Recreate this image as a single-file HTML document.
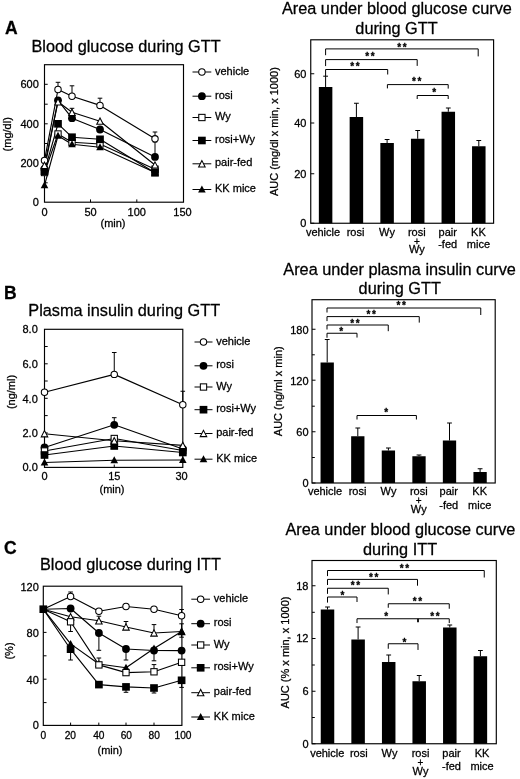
<!DOCTYPE html>
<html lang="en">
<head>
<meta charset="utf-8">
<title>Figure: GTT and ITT in KK mice</title>
<style>
html, body { margin: 0; padding: 0; background: #fff; }
body { width: 520px; height: 779px; overflow: hidden; }
svg { display: block; }
svg text { font-family: "Liberation Sans", Arial, Helvetica, sans-serif; fill: #000; stroke: #000; stroke-width: 0.28px; stroke-linejoin: round; }
</style>
</head>
<body>
<svg width="520" height="779" viewBox="0 0 520 779">
<rect x="0" y="0" width="520" height="779" fill="#fff"/>
<rect x="44.5" y="64.7" width="139.0" height="137.5" fill="none" stroke="#000" stroke-width="1.15"/>
<line x1="44.50" y1="84.30" x2="47.70" y2="84.30" stroke="#000" stroke-width="1" />
<line x1="44.50" y1="104.20" x2="47.70" y2="104.20" stroke="#000" stroke-width="1" />
<line x1="44.50" y1="123.80" x2="47.70" y2="123.80" stroke="#000" stroke-width="1" />
<line x1="44.50" y1="143.50" x2="47.70" y2="143.50" stroke="#000" stroke-width="1" />
<line x1="44.50" y1="163.20" x2="47.70" y2="163.20" stroke="#000" stroke-width="1" />
<line x1="44.50" y1="182.80" x2="47.70" y2="182.80" stroke="#000" stroke-width="1" />
<line x1="90.50" y1="202.20" x2="90.50" y2="199.40" stroke="#000" stroke-width="1" />
<line x1="136.80" y1="202.20" x2="136.80" y2="199.40" stroke="#000" stroke-width="1" />
<text x="38.80" y="206.40" font-size="11" text-anchor="end" font-weight="normal" >0</text>
<text x="38.80" y="167.40" font-size="11" text-anchor="end" font-weight="normal" >200</text>
<text x="38.80" y="127.70" font-size="11" text-anchor="end" font-weight="normal" >400</text>
<text x="38.80" y="88.20" font-size="11" text-anchor="end" font-weight="normal" >600</text>
<text x="44.50" y="216.30" font-size="11" text-anchor="middle" font-weight="normal" >0</text>
<text x="90.50" y="216.30" font-size="11" text-anchor="middle" font-weight="normal" >50</text>
<text x="136.80" y="216.30" font-size="11" text-anchor="middle" font-weight="normal" >100</text>
<text x="182.50" y="216.30" font-size="11" text-anchor="middle" font-weight="normal" >150</text>
<text x="11.50" y="134.30" font-size="11" text-anchor="middle" font-weight="normal" transform="rotate(-90 11.5 134.3)">(mg/dl)</text>
<text x="113.00" y="226.60" font-size="11" text-anchor="middle" font-weight="normal" >(min)</text>
<text x="31.50" y="52.00" font-size="16.3" text-anchor="start" font-weight="normal" >Blood glucose during GTT</text>
<text x="5.00" y="34.00" font-size="17.5" text-anchor="start" font-weight="bold" >A</text>
<polyline points="44.50,160.40 58.00,89.50 72.00,96.20 100.00,105.40 155.00,138.80" fill="none" stroke="#000" stroke-width="1.15" stroke-linejoin="round"/>
<polyline points="44.50,169.00 58.00,100.30 72.00,118.20 100.00,129.50 155.00,156.90" fill="none" stroke="#000" stroke-width="1.15" stroke-linejoin="round"/>
<polyline points="44.50,172.50 58.00,134.00 72.00,142.30 100.00,144.00 155.00,169.20" fill="none" stroke="#000" stroke-width="1.15" stroke-linejoin="round"/>
<polyline points="44.50,171.20 58.00,123.80 72.00,137.20 100.00,139.30 155.00,172.80" fill="none" stroke="#000" stroke-width="1.15" stroke-linejoin="round"/>
<polyline points="44.50,165.30 58.00,101.80 72.00,112.30 100.00,121.20 155.00,165.00" fill="none" stroke="#000" stroke-width="1.15" stroke-linejoin="round"/>
<polyline points="44.50,185.30 58.00,135.80 72.00,144.30 100.00,147.20 155.00,172.50" fill="none" stroke="#000" stroke-width="1.15" stroke-linejoin="round"/>
<line x1="58.00" y1="89.50" x2="58.00" y2="82.30" stroke="#000" stroke-width="1" />
<line x1="55.70" y1="82.30" x2="60.30" y2="82.30" stroke="#000" stroke-width="1" />
<line x1="72.00" y1="96.20" x2="72.00" y2="85.80" stroke="#000" stroke-width="1" />
<line x1="69.70" y1="85.80" x2="74.30" y2="85.80" stroke="#000" stroke-width="1" />
<line x1="100.00" y1="105.40" x2="100.00" y2="98.20" stroke="#000" stroke-width="1" />
<line x1="97.70" y1="98.20" x2="102.30" y2="98.20" stroke="#000" stroke-width="1" />
<line x1="155.00" y1="138.80" x2="155.00" y2="132.00" stroke="#000" stroke-width="1" />
<line x1="152.70" y1="132.00" x2="157.30" y2="132.00" stroke="#000" stroke-width="1" />
<line x1="72.00" y1="112.30" x2="72.00" y2="108.30" stroke="#000" stroke-width="1" />
<line x1="69.70" y1="108.30" x2="74.30" y2="108.30" stroke="#000" stroke-width="1" />
<line x1="155.00" y1="156.90" x2="155.00" y2="142.00" stroke="#000" stroke-width="1" />
<line x1="152.70" y1="142.00" x2="157.30" y2="142.00" stroke="#000" stroke-width="1" />
<circle cx="44.50" cy="160.40" r="3.2" fill="#fff" stroke="#000" stroke-width="1.05"/>
<circle cx="58.00" cy="89.50" r="3.2" fill="#fff" stroke="#000" stroke-width="1.05"/>
<circle cx="72.00" cy="96.20" r="3.2" fill="#fff" stroke="#000" stroke-width="1.05"/>
<circle cx="100.00" cy="105.40" r="3.2" fill="#fff" stroke="#000" stroke-width="1.05"/>
<circle cx="155.00" cy="138.80" r="3.2" fill="#fff" stroke="#000" stroke-width="1.05"/>
<circle cx="44.50" cy="169.00" r="3.9" fill="#000"/>
<circle cx="58.00" cy="100.30" r="3.9" fill="#000"/>
<circle cx="72.00" cy="118.20" r="3.9" fill="#000"/>
<circle cx="100.00" cy="129.50" r="3.9" fill="#000"/>
<circle cx="155.00" cy="156.90" r="3.9" fill="#000"/>
<rect x="41.35" y="169.35" width="6.3" height="6.3" fill="#fff" stroke="#000" stroke-width="1.05"/>
<rect x="54.85" y="130.85" width="6.3" height="6.3" fill="#fff" stroke="#000" stroke-width="1.05"/>
<rect x="68.85" y="139.15" width="6.3" height="6.3" fill="#fff" stroke="#000" stroke-width="1.05"/>
<rect x="96.85" y="140.85" width="6.3" height="6.3" fill="#fff" stroke="#000" stroke-width="1.05"/>
<rect x="151.85" y="166.05" width="6.3" height="6.3" fill="#fff" stroke="#000" stroke-width="1.05"/>
<rect x="40.65" y="167.40" width="7.7" height="7.6" fill="#000"/>
<rect x="54.15" y="120.00" width="7.7" height="7.6" fill="#000"/>
<rect x="68.15" y="133.40" width="7.7" height="7.6" fill="#000"/>
<rect x="96.15" y="135.50" width="7.7" height="7.6" fill="#000"/>
<rect x="151.15" y="169.00" width="7.7" height="7.6" fill="#000"/>
<polygon points="44.50,162.10 41.25,168.40 47.75,168.40" fill="#fff" stroke="#000" stroke-width="1.05"/>
<polygon points="58.00,98.60 54.75,104.90 61.25,104.90" fill="#fff" stroke="#000" stroke-width="1.05"/>
<polygon points="72.00,109.10 68.75,115.40 75.25,115.40" fill="#fff" stroke="#000" stroke-width="1.05"/>
<polygon points="100.00,118.00 96.75,124.30 103.25,124.30" fill="#fff" stroke="#000" stroke-width="1.05"/>
<polygon points="155.00,161.80 151.75,168.10 158.25,168.10" fill="#fff" stroke="#000" stroke-width="1.05"/>
<polygon points="44.50,181.30 40.70,188.30 48.30,188.30" fill="#000"/>
<polygon points="58.00,131.80 54.20,138.80 61.80,138.80" fill="#000"/>
<polygon points="72.00,140.30 68.20,147.30 75.80,147.30" fill="#000"/>
<polygon points="100.00,143.20 96.20,150.20 103.80,150.20" fill="#000"/>
<polygon points="155.00,168.50 151.20,175.50 158.80,175.50" fill="#000"/>
<line x1="192.50" y1="72.00" x2="211.30" y2="72.00" stroke="#000" stroke-width="1.0" />
<circle cx="201.90" cy="72.00" r="3.2" fill="#fff" stroke="#000" stroke-width="1.05"/>
<text x="215.00" y="74.60" font-size="11" text-anchor="start" font-weight="normal" >vehicle</text>
<line x1="192.50" y1="96.20" x2="211.30" y2="96.20" stroke="#000" stroke-width="1.0" />
<circle cx="201.90" cy="96.20" r="3.9" fill="#000"/>
<text x="215.00" y="98.80" font-size="11" text-anchor="start" font-weight="normal" >rosi</text>
<line x1="192.50" y1="117.50" x2="211.30" y2="117.50" stroke="#000" stroke-width="1.0" />
<rect x="198.75" y="114.35" width="6.3" height="6.3" fill="#fff" stroke="#000" stroke-width="1.05"/>
<text x="215.00" y="120.10" font-size="11" text-anchor="start" font-weight="normal" >Wy</text>
<line x1="192.50" y1="140.50" x2="211.30" y2="140.50" stroke="#000" stroke-width="1.0" />
<rect x="198.05" y="136.70" width="7.7" height="7.6" fill="#000"/>
<text x="215.00" y="143.10" font-size="11" text-anchor="start" font-weight="normal" >rosi+Wy</text>
<line x1="192.50" y1="163.80" x2="211.30" y2="163.80" stroke="#000" stroke-width="1.0" />
<polygon points="201.90,160.60 198.65,166.90 205.15,166.90" fill="#fff" stroke="#000" stroke-width="1.05"/>
<text x="215.00" y="166.40" font-size="11" text-anchor="start" font-weight="normal" >pair-fed</text>
<line x1="192.50" y1="189.50" x2="211.30" y2="189.50" stroke="#000" stroke-width="1.0" />
<polygon points="201.90,185.50 198.10,192.50 205.70,192.50" fill="#000"/>
<text x="215.00" y="192.10" font-size="11" text-anchor="start" font-weight="normal" >KK mice</text>
<rect x="44.5" y="329.3" width="138.3" height="138.09999999999997" fill="none" stroke="#000" stroke-width="1.15"/>
<line x1="44.50" y1="346.50" x2="47.70" y2="346.50" stroke="#000" stroke-width="1" />
<line x1="44.50" y1="363.80" x2="47.70" y2="363.80" stroke="#000" stroke-width="1" />
<line x1="44.50" y1="381.00" x2="47.70" y2="381.00" stroke="#000" stroke-width="1" />
<line x1="44.50" y1="398.30" x2="47.70" y2="398.30" stroke="#000" stroke-width="1" />
<line x1="44.50" y1="415.60" x2="47.70" y2="415.60" stroke="#000" stroke-width="1" />
<line x1="44.50" y1="432.90" x2="47.70" y2="432.90" stroke="#000" stroke-width="1" />
<line x1="44.50" y1="450.10" x2="47.70" y2="450.10" stroke="#000" stroke-width="1" />
<line x1="114.25" y1="467.40" x2="114.25" y2="464.60" stroke="#000" stroke-width="1" />
<text x="37.80" y="471.40" font-size="11" text-anchor="end" font-weight="normal" >0.0</text>
<text x="37.80" y="437.10" font-size="11" text-anchor="end" font-weight="normal" >2.0</text>
<text x="37.80" y="402.90" font-size="11" text-anchor="end" font-weight="normal" >4.0</text>
<text x="37.80" y="367.90" font-size="11" text-anchor="end" font-weight="normal" >6.0</text>
<text x="37.80" y="333.40" font-size="11" text-anchor="end" font-weight="normal" >8.0</text>
<text x="44.50" y="480.20" font-size="11" text-anchor="middle" font-weight="normal" >0</text>
<text x="114.25" y="480.20" font-size="11" text-anchor="middle" font-weight="normal" >15</text>
<text x="181.50" y="480.20" font-size="11" text-anchor="middle" font-weight="normal" >30</text>
<text x="15.00" y="392.00" font-size="11" text-anchor="middle" font-weight="normal" transform="rotate(-90 15 392)">(ng/ml)</text>
<text x="112.00" y="492.50" font-size="11" text-anchor="middle" font-weight="normal" >(min)</text>
<text x="28.30" y="315.80" font-size="16.3" text-anchor="start" font-weight="normal" >Plasma insulin during GTT</text>
<text x="4.00" y="299.10" font-size="17.5" text-anchor="start" font-weight="bold" >B</text>
<polyline points="44.50,392.30 114.25,374.40 182.80,404.70" fill="none" stroke="#000" stroke-width="1.15" stroke-linejoin="round"/>
<polyline points="44.50,447.50 114.25,424.80 182.80,449.00" fill="none" stroke="#000" stroke-width="1.15" stroke-linejoin="round"/>
<polyline points="44.50,451.00 114.25,438.50 182.80,450.50" fill="none" stroke="#000" stroke-width="1.15" stroke-linejoin="round"/>
<polyline points="44.50,455.00 114.25,446.00 182.80,452.50" fill="none" stroke="#000" stroke-width="1.15" stroke-linejoin="round"/>
<polyline points="44.50,433.75 114.25,440.80 182.80,445.40" fill="none" stroke="#000" stroke-width="1.15" stroke-linejoin="round"/>
<polyline points="44.50,462.50 114.25,460.30 182.80,460.00" fill="none" stroke="#000" stroke-width="1.15" stroke-linejoin="round"/>
<line x1="114.25" y1="374.40" x2="114.25" y2="352.50" stroke="#000" stroke-width="1" />
<line x1="111.95" y1="352.50" x2="116.55" y2="352.50" stroke="#000" stroke-width="1" />
<line x1="182.80" y1="404.70" x2="182.80" y2="391.25" stroke="#000" stroke-width="1" />
<line x1="180.50" y1="391.25" x2="185.10" y2="391.25" stroke="#000" stroke-width="1" />
<line x1="114.25" y1="424.80" x2="114.25" y2="417.70" stroke="#000" stroke-width="1" />
<line x1="111.95" y1="417.70" x2="116.55" y2="417.70" stroke="#000" stroke-width="1" />
<circle cx="44.50" cy="392.30" r="3.2" fill="#fff" stroke="#000" stroke-width="1.05"/>
<circle cx="114.25" cy="374.40" r="3.2" fill="#fff" stroke="#000" stroke-width="1.05"/>
<circle cx="182.80" cy="404.70" r="3.2" fill="#fff" stroke="#000" stroke-width="1.05"/>
<circle cx="44.50" cy="447.50" r="3.9" fill="#000"/>
<circle cx="114.25" cy="424.80" r="3.9" fill="#000"/>
<circle cx="182.80" cy="449.00" r="3.9" fill="#000"/>
<rect x="41.35" y="447.85" width="6.3" height="6.3" fill="#fff" stroke="#000" stroke-width="1.05"/>
<rect x="111.10" y="435.35" width="6.3" height="6.3" fill="#fff" stroke="#000" stroke-width="1.05"/>
<rect x="179.65" y="447.35" width="6.3" height="6.3" fill="#fff" stroke="#000" stroke-width="1.05"/>
<rect x="40.65" y="451.20" width="7.7" height="7.6" fill="#000"/>
<rect x="110.40" y="442.20" width="7.7" height="7.6" fill="#000"/>
<rect x="178.95" y="448.70" width="7.7" height="7.6" fill="#000"/>
<polygon points="44.50,430.55 41.25,436.85 47.75,436.85" fill="#fff" stroke="#000" stroke-width="1.05"/>
<polygon points="114.25,437.60 111.00,443.90 117.50,443.90" fill="#fff" stroke="#000" stroke-width="1.05"/>
<polygon points="182.80,442.20 179.55,448.50 186.05,448.50" fill="#fff" stroke="#000" stroke-width="1.05"/>
<polygon points="44.50,458.50 40.70,465.50 48.30,465.50" fill="#000"/>
<polygon points="114.25,456.30 110.45,463.30 118.05,463.30" fill="#000"/>
<polygon points="182.80,456.00 179.00,463.00 186.60,463.00" fill="#000"/>
<line x1="194.50" y1="342.00" x2="212.50" y2="342.00" stroke="#000" stroke-width="1.0" />
<circle cx="203.50" cy="342.00" r="3.2" fill="#fff" stroke="#000" stroke-width="1.05"/>
<text x="216.20" y="344.60" font-size="11" text-anchor="start" font-weight="normal" >vehicle</text>
<line x1="194.50" y1="365.80" x2="212.50" y2="365.80" stroke="#000" stroke-width="1.0" />
<circle cx="203.50" cy="365.80" r="3.9" fill="#000"/>
<text x="216.20" y="368.40" font-size="11" text-anchor="start" font-weight="normal" >rosi</text>
<line x1="194.50" y1="387.00" x2="212.50" y2="387.00" stroke="#000" stroke-width="1.0" />
<rect x="200.35" y="383.85" width="6.3" height="6.3" fill="#fff" stroke="#000" stroke-width="1.05"/>
<text x="216.20" y="389.60" font-size="11" text-anchor="start" font-weight="normal" >Wy</text>
<line x1="194.50" y1="409.70" x2="212.50" y2="409.70" stroke="#000" stroke-width="1.0" />
<rect x="199.65" y="405.90" width="7.7" height="7.6" fill="#000"/>
<text x="216.20" y="412.30" font-size="11" text-anchor="start" font-weight="normal" >rosi+Wy</text>
<line x1="194.50" y1="433.50" x2="212.50" y2="433.50" stroke="#000" stroke-width="1.0" />
<polygon points="203.50,430.30 200.25,436.60 206.75,436.60" fill="#fff" stroke="#000" stroke-width="1.05"/>
<text x="216.20" y="436.10" font-size="11" text-anchor="start" font-weight="normal" >pair-fed</text>
<line x1="194.50" y1="459.20" x2="212.50" y2="459.20" stroke="#000" stroke-width="1.0" />
<polygon points="203.50,455.20 199.70,462.20 207.30,462.20" fill="#000"/>
<text x="216.20" y="461.80" font-size="11" text-anchor="start" font-weight="normal" >KK mice</text>
<rect x="43.3" y="586.2" width="138.60000000000002" height="139.19999999999993" fill="none" stroke="#000" stroke-width="1.15"/>
<line x1="43.30" y1="609.20" x2="46.50" y2="609.20" stroke="#000" stroke-width="1" />
<line x1="43.30" y1="632.40" x2="46.50" y2="632.40" stroke="#000" stroke-width="1" />
<line x1="43.30" y1="655.80" x2="46.50" y2="655.80" stroke="#000" stroke-width="1" />
<line x1="43.30" y1="679.20" x2="46.50" y2="679.20" stroke="#000" stroke-width="1" />
<line x1="43.30" y1="702.60" x2="46.50" y2="702.60" stroke="#000" stroke-width="1" />
<line x1="70.60" y1="725.40" x2="70.60" y2="722.60" stroke="#000" stroke-width="1" />
<line x1="98.80" y1="725.40" x2="98.80" y2="722.60" stroke="#000" stroke-width="1" />
<line x1="126.00" y1="725.40" x2="126.00" y2="722.60" stroke="#000" stroke-width="1" />
<line x1="154.00" y1="725.40" x2="154.00" y2="722.60" stroke="#000" stroke-width="1" />
<text x="38.80" y="728.90" font-size="11" text-anchor="end" font-weight="normal" >0</text>
<text x="38.80" y="684.10" font-size="11" text-anchor="end" font-weight="normal" >40</text>
<text x="38.80" y="636.50" font-size="11" text-anchor="end" font-weight="normal" >80</text>
<text x="38.80" y="590.90" font-size="11" text-anchor="end" font-weight="normal" >120</text>
<text x="43.30" y="739.00" font-size="10.2" text-anchor="middle" font-weight="normal" >0</text>
<text x="70.30" y="739.00" font-size="10.2" text-anchor="middle" font-weight="normal" >20</text>
<text x="98.80" y="739.00" font-size="10.2" text-anchor="middle" font-weight="normal" >40</text>
<text x="126.30" y="739.00" font-size="10.2" text-anchor="middle" font-weight="normal" >60</text>
<text x="154.20" y="739.00" font-size="10.2" text-anchor="middle" font-weight="normal" >80</text>
<text x="183.00" y="739.00" font-size="10.2" text-anchor="middle" font-weight="normal" >100</text>
<text x="12.60" y="651.00" font-size="11" text-anchor="middle" font-weight="normal" transform="rotate(-90 12.6 651)">(%)</text>
<text x="110.00" y="753.70" font-size="11" text-anchor="middle" font-weight="normal" >(min)</text>
<text x="40.00" y="570.00" font-size="16.3" text-anchor="start" font-weight="normal" >Blood glucose during ITT</text>
<text x="4.00" y="554.20" font-size="17.5" text-anchor="start" font-weight="bold" >C</text>
<polyline points="43.30,609.20 70.60,596.50 98.90,611.20 126.00,606.50 154.00,609.20 181.60,615.70" fill="none" stroke="#000" stroke-width="1.15" stroke-linejoin="round"/>
<polyline points="43.30,609.20 70.60,608.50 98.90,633.00 126.00,649.00 154.00,650.50 181.60,650.60" fill="none" stroke="#000" stroke-width="1.15" stroke-linejoin="round"/>
<polyline points="43.30,609.20 70.60,649.20 98.90,684.60 126.00,686.90 154.00,688.00 181.60,680.30" fill="none" stroke="#000" stroke-width="1.15" stroke-linejoin="round"/>
<polyline points="43.30,609.20 70.60,616.80 98.90,620.80 126.00,627.00 154.00,633.00 181.60,631.50" fill="none" stroke="#000" stroke-width="1.15" stroke-linejoin="round"/>
<polyline points="43.30,609.20 70.60,643.90 98.90,664.00 126.00,667.70 154.00,648.60 181.60,631.50" fill="none" stroke="#000" stroke-width="1.15" stroke-linejoin="round"/>
<polyline points="43.30,609.20 70.60,621.80 98.90,664.90 126.00,672.60 154.00,671.80 181.60,662.30" fill="none" stroke="#000" stroke-width="1.15" stroke-linejoin="round"/>
<line x1="70.60" y1="596.50" x2="70.60" y2="592.00" stroke="#000" stroke-width="1" />
<line x1="68.30" y1="592.00" x2="72.90" y2="592.00" stroke="#000" stroke-width="1" />
<line x1="181.60" y1="615.70" x2="181.60" y2="609.50" stroke="#000" stroke-width="1" />
<line x1="179.30" y1="609.50" x2="183.90" y2="609.50" stroke="#000" stroke-width="1" />
<line x1="98.90" y1="633.00" x2="98.90" y2="650.30" stroke="#000" stroke-width="1" />
<line x1="96.60" y1="650.30" x2="101.20" y2="650.30" stroke="#000" stroke-width="1" />
<line x1="126.00" y1="649.00" x2="126.00" y2="660.00" stroke="#000" stroke-width="1" />
<line x1="123.70" y1="660.00" x2="128.30" y2="660.00" stroke="#000" stroke-width="1" />
<line x1="154.00" y1="650.50" x2="154.00" y2="660.80" stroke="#000" stroke-width="1" />
<line x1="151.70" y1="660.80" x2="156.30" y2="660.80" stroke="#000" stroke-width="1" />
<line x1="70.60" y1="621.80" x2="70.60" y2="631.50" stroke="#000" stroke-width="1" />
<line x1="68.30" y1="631.50" x2="72.90" y2="631.50" stroke="#000" stroke-width="1" />
<line x1="98.90" y1="664.90" x2="98.90" y2="658.00" stroke="#000" stroke-width="1" />
<line x1="96.60" y1="658.00" x2="101.20" y2="658.00" stroke="#000" stroke-width="1" />
<line x1="154.00" y1="671.80" x2="154.00" y2="664.60" stroke="#000" stroke-width="1" />
<line x1="151.70" y1="664.60" x2="156.30" y2="664.60" stroke="#000" stroke-width="1" />
<line x1="70.60" y1="649.20" x2="70.60" y2="660.00" stroke="#000" stroke-width="1" />
<line x1="68.30" y1="660.00" x2="72.90" y2="660.00" stroke="#000" stroke-width="1" />
<line x1="126.00" y1="686.90" x2="126.00" y2="692.30" stroke="#000" stroke-width="1" />
<line x1="123.70" y1="692.30" x2="128.30" y2="692.30" stroke="#000" stroke-width="1" />
<line x1="154.00" y1="688.00" x2="154.00" y2="693.00" stroke="#000" stroke-width="1" />
<line x1="151.70" y1="693.00" x2="156.30" y2="693.00" stroke="#000" stroke-width="1" />
<line x1="181.60" y1="680.30" x2="181.60" y2="687.40" stroke="#000" stroke-width="1" />
<line x1="179.30" y1="687.40" x2="183.90" y2="687.40" stroke="#000" stroke-width="1" />
<line x1="98.90" y1="620.80" x2="98.90" y2="616.20" stroke="#000" stroke-width="1" />
<line x1="96.60" y1="616.20" x2="101.20" y2="616.20" stroke="#000" stroke-width="1" />
<line x1="126.00" y1="627.00" x2="126.00" y2="621.50" stroke="#000" stroke-width="1" />
<line x1="123.70" y1="621.50" x2="128.30" y2="621.50" stroke="#000" stroke-width="1" />
<line x1="154.00" y1="633.00" x2="154.00" y2="624.60" stroke="#000" stroke-width="1" />
<line x1="151.70" y1="624.60" x2="156.30" y2="624.60" stroke="#000" stroke-width="1" />
<line x1="181.60" y1="631.50" x2="181.60" y2="623.80" stroke="#000" stroke-width="1" />
<line x1="179.30" y1="623.80" x2="183.90" y2="623.80" stroke="#000" stroke-width="1" />
<line x1="181.60" y1="631.50" x2="181.60" y2="637.20" stroke="#000" stroke-width="1" />
<line x1="179.30" y1="637.20" x2="183.90" y2="637.20" stroke="#000" stroke-width="1" />
<circle cx="70.60" cy="596.50" r="3.2" fill="#fff" stroke="#000" stroke-width="1.05"/>
<circle cx="98.90" cy="611.20" r="3.2" fill="#fff" stroke="#000" stroke-width="1.05"/>
<circle cx="126.00" cy="606.50" r="3.2" fill="#fff" stroke="#000" stroke-width="1.05"/>
<circle cx="154.00" cy="609.20" r="3.2" fill="#fff" stroke="#000" stroke-width="1.05"/>
<circle cx="181.60" cy="615.70" r="3.2" fill="#fff" stroke="#000" stroke-width="1.05"/>
<circle cx="70.60" cy="608.50" r="3.9" fill="#000"/>
<circle cx="98.90" cy="633.00" r="3.9" fill="#000"/>
<circle cx="126.00" cy="649.00" r="3.9" fill="#000"/>
<circle cx="154.00" cy="650.50" r="3.9" fill="#000"/>
<circle cx="181.60" cy="650.60" r="3.9" fill="#000"/>
<rect x="39.45" y="605.40" width="7.7" height="7.6" fill="#000"/>
<rect x="66.75" y="645.40" width="7.7" height="7.6" fill="#000"/>
<rect x="95.05" y="680.80" width="7.7" height="7.6" fill="#000"/>
<rect x="122.15" y="683.10" width="7.7" height="7.6" fill="#000"/>
<rect x="150.15" y="684.20" width="7.7" height="7.6" fill="#000"/>
<rect x="177.75" y="676.50" width="7.7" height="7.6" fill="#000"/>
<polygon points="70.60,613.60 67.35,619.90 73.85,619.90" fill="#fff" stroke="#000" stroke-width="1.05"/>
<polygon points="98.90,617.60 95.65,623.90 102.15,623.90" fill="#fff" stroke="#000" stroke-width="1.05"/>
<polygon points="126.00,623.80 122.75,630.10 129.25,630.10" fill="#fff" stroke="#000" stroke-width="1.05"/>
<polygon points="154.00,629.80 150.75,636.10 157.25,636.10" fill="#fff" stroke="#000" stroke-width="1.05"/>
<polygon points="181.60,628.30 178.35,634.60 184.85,634.60" fill="#fff" stroke="#000" stroke-width="1.05"/>
<polygon points="70.60,639.90 66.80,646.90 74.40,646.90" fill="#000"/>
<polygon points="98.90,660.00 95.10,667.00 102.70,667.00" fill="#000"/>
<polygon points="126.00,663.70 122.20,670.70 129.80,670.70" fill="#000"/>
<polygon points="154.00,644.60 150.20,651.60 157.80,651.60" fill="#000"/>
<polygon points="181.60,627.50 177.80,634.50 185.40,634.50" fill="#000"/>
<rect x="67.45" y="618.65" width="6.3" height="6.3" fill="#fff" stroke="#000" stroke-width="1.05"/>
<rect x="95.75" y="661.75" width="6.3" height="6.3" fill="#fff" stroke="#000" stroke-width="1.05"/>
<rect x="122.85" y="669.45" width="6.3" height="6.3" fill="#fff" stroke="#000" stroke-width="1.05"/>
<rect x="150.85" y="668.65" width="6.3" height="6.3" fill="#fff" stroke="#000" stroke-width="1.05"/>
<rect x="178.45" y="659.15" width="6.3" height="6.3" fill="#fff" stroke="#000" stroke-width="1.05"/>
<line x1="191.30" y1="599.20" x2="210.00" y2="599.20" stroke="#000" stroke-width="1.0" />
<circle cx="200.65" cy="599.20" r="3.2" fill="#fff" stroke="#000" stroke-width="1.05"/>
<text x="213.80" y="601.80" font-size="11" text-anchor="start" font-weight="normal" >vehicle</text>
<line x1="191.30" y1="623.70" x2="210.00" y2="623.70" stroke="#000" stroke-width="1.0" />
<circle cx="200.65" cy="623.70" r="3.9" fill="#000"/>
<text x="213.80" y="626.30" font-size="11" text-anchor="start" font-weight="normal" >rosi</text>
<line x1="191.30" y1="645.00" x2="210.00" y2="645.00" stroke="#000" stroke-width="1.0" />
<rect x="197.50" y="641.85" width="6.3" height="6.3" fill="#fff" stroke="#000" stroke-width="1.05"/>
<text x="213.80" y="647.60" font-size="11" text-anchor="start" font-weight="normal" >Wy</text>
<line x1="191.30" y1="667.80" x2="210.00" y2="667.80" stroke="#000" stroke-width="1.0" />
<rect x="196.80" y="664.00" width="7.7" height="7.6" fill="#000"/>
<text x="213.80" y="670.40" font-size="11" text-anchor="start" font-weight="normal" >rosi+Wy</text>
<line x1="191.30" y1="692.70" x2="210.00" y2="692.70" stroke="#000" stroke-width="1.0" />
<polygon points="200.65,689.50 197.40,695.80 203.90,695.80" fill="#fff" stroke="#000" stroke-width="1.05"/>
<text x="213.80" y="695.30" font-size="11" text-anchor="start" font-weight="normal" >pair-fed</text>
<line x1="191.30" y1="717.00" x2="210.00" y2="717.00" stroke="#000" stroke-width="1.0" />
<polygon points="200.65,713.00 196.85,720.00 204.45,720.00" fill="#000"/>
<text x="213.80" y="719.60" font-size="11" text-anchor="start" font-weight="normal" >KK mice</text>
<rect x="310.75" y="39.8" width="182.85000000000002" height="183.45" fill="none" stroke="#000" stroke-width="1.15"/>
<line x1="310.75" y1="223.25" x2="314.25" y2="223.25" stroke="#000" stroke-width="1" />
<text x="306.45" y="227.15" font-size="11" text-anchor="end" font-weight="normal" >0</text>
<line x1="310.75" y1="173.75" x2="314.25" y2="173.75" stroke="#000" stroke-width="1" />
<text x="306.45" y="177.65" font-size="11" text-anchor="end" font-weight="normal" >20</text>
<line x1="310.75" y1="123.00" x2="314.25" y2="123.00" stroke="#000" stroke-width="1" />
<text x="306.45" y="126.90" font-size="11" text-anchor="end" font-weight="normal" >40</text>
<line x1="310.75" y1="73.75" x2="314.25" y2="73.75" stroke="#000" stroke-width="1" />
<text x="306.45" y="77.65" font-size="11" text-anchor="end" font-weight="normal" >60</text>
<text x="278.50" y="131.60" font-size="11" text-anchor="middle" font-weight="normal" transform="rotate(-90 278.5 131.6)">AUC (mg/dl x min, x 1000)</text>
<text x="396.90" y="14.25" font-size="16.3" text-anchor="middle" font-weight="normal" >Area under blood glucose curve</text>
<text x="396.50" y="33.75" font-size="16.3" text-anchor="middle" font-weight="normal" >during GTT</text>
<rect x="318.85" y="87.00" width="13.5" height="136.25" fill="#000"/>
<line x1="325.60" y1="87.00" x2="325.60" y2="76.20" stroke="#000" stroke-width="1" />
<line x1="323.20" y1="76.20" x2="328.00" y2="76.20" stroke="#000" stroke-width="1" />
<rect x="349.65" y="117.00" width="13.5" height="106.25" fill="#000"/>
<line x1="356.40" y1="117.00" x2="356.40" y2="103.25" stroke="#000" stroke-width="1" />
<line x1="354.00" y1="103.25" x2="358.80" y2="103.25" stroke="#000" stroke-width="1" />
<rect x="380.35" y="143.00" width="13.5" height="80.25" fill="#000"/>
<line x1="387.10" y1="143.00" x2="387.10" y2="139.50" stroke="#000" stroke-width="1" />
<line x1="384.70" y1="139.50" x2="389.50" y2="139.50" stroke="#000" stroke-width="1" />
<rect x="410.95" y="138.75" width="13.5" height="84.50" fill="#000"/>
<line x1="417.70" y1="138.75" x2="417.70" y2="130.50" stroke="#000" stroke-width="1" />
<line x1="415.30" y1="130.50" x2="420.10" y2="130.50" stroke="#000" stroke-width="1" />
<rect x="441.55" y="111.75" width="13.5" height="111.50" fill="#000"/>
<line x1="448.30" y1="111.75" x2="448.30" y2="108.00" stroke="#000" stroke-width="1" />
<line x1="445.90" y1="108.00" x2="450.70" y2="108.00" stroke="#000" stroke-width="1" />
<rect x="472.05" y="146.25" width="13.5" height="77.00" fill="#000"/>
<line x1="478.80" y1="146.25" x2="478.80" y2="140.50" stroke="#000" stroke-width="1" />
<line x1="476.40" y1="140.50" x2="481.20" y2="140.50" stroke="#000" stroke-width="1" />
<text x="323.00" y="235.60" font-size="11" text-anchor="middle" font-weight="normal" >vehicle</text>
<text x="355.50" y="235.60" font-size="11" text-anchor="middle" font-weight="normal" >rosi</text>
<text x="387.00" y="235.60" font-size="11" text-anchor="middle" font-weight="normal" >Wy</text>
<text x="416.80" y="235.60" font-size="11" text-anchor="middle" font-weight="normal" >rosi</text>
<text x="416.80" y="244.90" font-size="10" text-anchor="middle" font-weight="normal" >+</text>
<text x="416.80" y="252.90" font-size="11" text-anchor="middle" font-weight="normal" >Wy</text>
<text x="447.70" y="235.60" font-size="11" text-anchor="middle" font-weight="normal" >pair</text>
<text x="447.70" y="248.10" font-size="11" text-anchor="middle" font-weight="normal" >-fed</text>
<text x="478.40" y="235.60" font-size="11" text-anchor="middle" font-weight="normal" >KK</text>
<text x="478.40" y="248.10" font-size="11" text-anchor="middle" font-weight="normal" >mice</text>
<polyline points="325.60,55.20 325.60,48.90 478.20,48.90 478.20,56.40" fill="none" stroke="#000" stroke-width="1"/>
<text x="399.30" y="50.50" font-size="10" text-anchor="middle" font-weight="bold" >*</text>
<text x="404.70" y="50.50" font-size="10" text-anchor="middle" font-weight="bold" >*</text>
<polyline points="325.60,66.10 325.60,59.60 417.20,59.60 417.20,65.90" fill="none" stroke="#000" stroke-width="1"/>
<text x="367.30" y="60.00" font-size="10" text-anchor="middle" font-weight="bold" >*</text>
<text x="372.70" y="60.00" font-size="10" text-anchor="middle" font-weight="bold" >*</text>
<polyline points="325.60,76.20 325.60,69.50 387.70,69.50 387.70,74.50" fill="none" stroke="#000" stroke-width="1"/>
<text x="352.30" y="69.80" font-size="10" text-anchor="middle" font-weight="bold" >*</text>
<text x="357.70" y="69.80" font-size="10" text-anchor="middle" font-weight="bold" >*</text>
<polyline points="387.40,88.40 387.40,84.60 448.20,84.60 448.20,88.60" fill="none" stroke="#000" stroke-width="1"/>
<text x="414.00" y="84.60" font-size="10" text-anchor="middle" font-weight="bold" >*</text>
<text x="419.40" y="84.60" font-size="10" text-anchor="middle" font-weight="bold" >*</text>
<polyline points="417.20,99.00 417.20,95.50 448.20,95.50 448.20,99.00" fill="none" stroke="#000" stroke-width="1"/>
<text x="434.20" y="95.50" font-size="10" text-anchor="middle" font-weight="bold" >*</text>
<rect x="312" y="299.7" width="183.2" height="183.3" fill="none" stroke="#000" stroke-width="1.15"/>
<line x1="312.00" y1="483.00" x2="315.50" y2="483.00" stroke="#000" stroke-width="1" />
<text x="308.60" y="487.40" font-size="11" text-anchor="end" font-weight="normal" >0</text>
<line x1="312.00" y1="431.75" x2="315.50" y2="431.75" stroke="#000" stroke-width="1" />
<text x="308.60" y="436.15" font-size="11" text-anchor="end" font-weight="normal" >60</text>
<line x1="312.00" y1="380.20" x2="315.50" y2="380.20" stroke="#000" stroke-width="1" />
<text x="308.60" y="384.60" font-size="11" text-anchor="end" font-weight="normal" >120</text>
<line x1="312.00" y1="329.25" x2="315.50" y2="329.25" stroke="#000" stroke-width="1" />
<text x="308.60" y="333.65" font-size="11" text-anchor="end" font-weight="normal" >180</text>
<line x1="312.00" y1="354.80" x2="314.80" y2="354.80" stroke="#000" stroke-width="1" />
<line x1="312.00" y1="406.20" x2="314.80" y2="406.20" stroke="#000" stroke-width="1" />
<line x1="312.00" y1="457.50" x2="314.80" y2="457.50" stroke="#000" stroke-width="1" />
<text x="282.00" y="391.25" font-size="11" text-anchor="middle" font-weight="normal" transform="rotate(-90 282 391.25)">AUC (ng/ml x min)</text>
<text x="399.60" y="274.50" font-size="16.3" text-anchor="middle" font-weight="normal" >Area under plasma insulin curve</text>
<text x="399.75" y="293.75" font-size="16.3" text-anchor="middle" font-weight="normal" >during GTT</text>
<rect x="320.55" y="362.50" width="13.3" height="120.50" fill="#000"/>
<line x1="327.20" y1="362.50" x2="327.20" y2="339.50" stroke="#000" stroke-width="1" />
<line x1="324.80" y1="339.50" x2="329.60" y2="339.50" stroke="#000" stroke-width="1" />
<rect x="351.15" y="436.25" width="13.3" height="46.75" fill="#000"/>
<line x1="357.80" y1="436.25" x2="357.80" y2="428.00" stroke="#000" stroke-width="1" />
<line x1="355.40" y1="428.00" x2="360.20" y2="428.00" stroke="#000" stroke-width="1" />
<rect x="381.75" y="450.50" width="13.3" height="32.50" fill="#000"/>
<line x1="388.40" y1="450.50" x2="388.40" y2="448.00" stroke="#000" stroke-width="1" />
<line x1="386.00" y1="448.00" x2="390.80" y2="448.00" stroke="#000" stroke-width="1" />
<rect x="412.35" y="456.25" width="13.3" height="26.75" fill="#000"/>
<line x1="419.00" y1="456.25" x2="419.00" y2="455.00" stroke="#000" stroke-width="1" />
<line x1="416.60" y1="455.00" x2="421.40" y2="455.00" stroke="#000" stroke-width="1" />
<rect x="442.85" y="440.50" width="13.3" height="42.50" fill="#000"/>
<line x1="449.50" y1="440.50" x2="449.50" y2="423.00" stroke="#000" stroke-width="1" />
<line x1="447.10" y1="423.00" x2="451.90" y2="423.00" stroke="#000" stroke-width="1" />
<rect x="473.45" y="472.00" width="13.3" height="11.00" fill="#000"/>
<line x1="480.10" y1="472.00" x2="480.10" y2="468.75" stroke="#000" stroke-width="1" />
<line x1="477.70" y1="468.75" x2="482.50" y2="468.75" stroke="#000" stroke-width="1" />
<text x="325.00" y="495.00" font-size="11" text-anchor="middle" font-weight="normal" >vehicle</text>
<text x="357.50" y="495.00" font-size="11" text-anchor="middle" font-weight="normal" >rosi</text>
<text x="388.50" y="495.00" font-size="11" text-anchor="middle" font-weight="normal" >Wy</text>
<text x="418.75" y="495.00" font-size="11" text-anchor="middle" font-weight="normal" >rosi</text>
<text x="418.75" y="504.30" font-size="10" text-anchor="middle" font-weight="normal" >+</text>
<text x="418.75" y="512.50" font-size="11" text-anchor="middle" font-weight="normal" >Wy</text>
<text x="448.75" y="495.00" font-size="11" text-anchor="middle" font-weight="normal" >pair</text>
<text x="448.75" y="508.75" font-size="11" text-anchor="middle" font-weight="normal" >-fed</text>
<text x="479.70" y="495.00" font-size="11" text-anchor="middle" font-weight="normal" >KK</text>
<text x="479.70" y="508.75" font-size="11" text-anchor="middle" font-weight="normal" >mice</text>
<polyline points="327.00,312.50 327.00,308.00 480.75,308.00 480.75,315.00" fill="none" stroke="#000" stroke-width="1"/>
<text x="398.55" y="309.40" font-size="10" text-anchor="middle" font-weight="bold" >*</text>
<text x="403.95" y="309.40" font-size="10" text-anchor="middle" font-weight="bold" >*</text>
<polyline points="327.00,321.10 327.00,316.60 419.25,316.60 419.25,322.60" fill="none" stroke="#000" stroke-width="1"/>
<text x="368.55" y="317.80" font-size="10" text-anchor="middle" font-weight="bold" >*</text>
<text x="373.95" y="317.80" font-size="10" text-anchor="middle" font-weight="bold" >*</text>
<polyline points="327.00,329.50 327.00,325.00 388.25,325.00 388.25,331.20" fill="none" stroke="#000" stroke-width="1"/>
<text x="352.30" y="326.70" font-size="10" text-anchor="middle" font-weight="bold" >*</text>
<text x="357.70" y="326.70" font-size="10" text-anchor="middle" font-weight="bold" >*</text>
<polyline points="327.00,337.75 327.00,333.25 357.00,333.25 357.00,337.55" fill="none" stroke="#000" stroke-width="1"/>
<text x="341.25" y="334.95" font-size="10" text-anchor="middle" font-weight="bold" >*</text>
<polyline points="357.00,419.50 357.00,415.50 416.40,415.50 416.40,419.50" fill="none" stroke="#000" stroke-width="1"/>
<text x="386.25" y="416.00" font-size="10" text-anchor="middle" font-weight="bold" >*</text>
<rect x="312" y="560.5" width="184.3" height="183.25" fill="none" stroke="#000" stroke-width="1.15"/>
<line x1="312.00" y1="743.75" x2="315.50" y2="743.75" stroke="#000" stroke-width="1" />
<text x="308.50" y="747.65" font-size="11" text-anchor="end" font-weight="normal" >0</text>
<line x1="312.00" y1="691.25" x2="315.50" y2="691.25" stroke="#000" stroke-width="1" />
<text x="308.50" y="695.15" font-size="11" text-anchor="end" font-weight="normal" >6</text>
<line x1="312.00" y1="638.50" x2="315.50" y2="638.50" stroke="#000" stroke-width="1" />
<text x="308.50" y="642.40" font-size="11" text-anchor="end" font-weight="normal" >12</text>
<line x1="312.00" y1="585.75" x2="315.50" y2="585.75" stroke="#000" stroke-width="1" />
<text x="308.50" y="589.65" font-size="11" text-anchor="end" font-weight="normal" >18</text>
<line x1="312.00" y1="612.30" x2="314.80" y2="612.30" stroke="#000" stroke-width="1" />
<line x1="312.00" y1="665.00" x2="314.80" y2="665.00" stroke="#000" stroke-width="1" />
<line x1="312.00" y1="717.50" x2="314.80" y2="717.50" stroke="#000" stroke-width="1" />
<text x="289.00" y="652.50" font-size="11" text-anchor="middle" font-weight="normal" transform="rotate(-90 289 652.5)">AUC (% x min, x 1000)</text>
<text x="400.40" y="535.00" font-size="16.3" text-anchor="middle" font-weight="normal" >Area under blood glucose curve</text>
<text x="400.00" y="555.00" font-size="16.3" text-anchor="middle" font-weight="normal" >during ITT</text>
<rect x="320.75" y="609.50" width="13.5" height="134.25" fill="#000"/>
<line x1="327.50" y1="609.50" x2="327.50" y2="607.00" stroke="#000" stroke-width="1" />
<line x1="325.10" y1="607.00" x2="329.90" y2="607.00" stroke="#000" stroke-width="1" />
<rect x="351.35" y="639.50" width="13.5" height="104.25" fill="#000"/>
<line x1="358.10" y1="639.50" x2="358.10" y2="627.00" stroke="#000" stroke-width="1" />
<line x1="355.70" y1="627.00" x2="360.50" y2="627.00" stroke="#000" stroke-width="1" />
<rect x="381.95" y="662.00" width="13.5" height="81.75" fill="#000"/>
<line x1="388.70" y1="662.00" x2="388.70" y2="655.00" stroke="#000" stroke-width="1" />
<line x1="386.30" y1="655.00" x2="391.10" y2="655.00" stroke="#000" stroke-width="1" />
<rect x="412.45" y="681.25" width="13.5" height="62.50" fill="#000"/>
<line x1="419.20" y1="681.25" x2="419.20" y2="675.50" stroke="#000" stroke-width="1" />
<line x1="416.80" y1="675.50" x2="421.60" y2="675.50" stroke="#000" stroke-width="1" />
<rect x="443.05" y="627.50" width="13.5" height="116.25" fill="#000"/>
<line x1="449.80" y1="627.50" x2="449.80" y2="625.00" stroke="#000" stroke-width="1" />
<line x1="447.40" y1="625.00" x2="452.20" y2="625.00" stroke="#000" stroke-width="1" />
<rect x="473.65" y="656.25" width="13.5" height="87.50" fill="#000"/>
<line x1="480.40" y1="656.25" x2="480.40" y2="650.50" stroke="#000" stroke-width="1" />
<line x1="478.00" y1="650.50" x2="482.80" y2="650.50" stroke="#000" stroke-width="1" />
<text x="327.25" y="756.90" font-size="11" text-anchor="middle" font-weight="normal" >vehicle</text>
<text x="358.75" y="756.90" font-size="11" text-anchor="middle" font-weight="normal" >rosi</text>
<text x="389.50" y="756.90" font-size="11" text-anchor="middle" font-weight="normal" >Wy</text>
<text x="420.50" y="756.90" font-size="11" text-anchor="middle" font-weight="normal" >rosi</text>
<text x="420.50" y="766.20" font-size="10" text-anchor="middle" font-weight="normal" >+</text>
<text x="420.50" y="774.65" font-size="11" text-anchor="middle" font-weight="normal" >Wy</text>
<text x="451.50" y="756.90" font-size="11" text-anchor="middle" font-weight="normal" >pair</text>
<text x="451.50" y="770.15" font-size="11" text-anchor="middle" font-weight="normal" >-fed</text>
<text x="482.00" y="756.90" font-size="11" text-anchor="middle" font-weight="normal" >KK</text>
<text x="482.00" y="770.15" font-size="11" text-anchor="middle" font-weight="normal" >mice</text>
<polyline points="327.50,576.10 327.50,570.50 484.25,570.50 484.25,577.50" fill="none" stroke="#000" stroke-width="1"/>
<text x="401.80" y="571.70" font-size="10" text-anchor="middle" font-weight="bold" >*</text>
<text x="407.20" y="571.70" font-size="10" text-anchor="middle" font-weight="bold" >*</text>
<polyline points="327.50,585.00 327.50,579.40 417.50,579.40 417.50,585.70" fill="none" stroke="#000" stroke-width="1"/>
<text x="371.05" y="580.60" font-size="10" text-anchor="middle" font-weight="bold" >*</text>
<text x="376.45" y="580.60" font-size="10" text-anchor="middle" font-weight="bold" >*</text>
<polyline points="327.50,593.85 327.50,588.25 388.25,588.25 388.25,594.45" fill="none" stroke="#000" stroke-width="1"/>
<text x="352.80" y="589.45" font-size="10" text-anchor="middle" font-weight="bold" >*</text>
<text x="358.20" y="589.45" font-size="10" text-anchor="middle" font-weight="bold" >*</text>
<polyline points="327.50,602.60 327.50,597.00 357.00,597.00 357.00,602.00" fill="none" stroke="#000" stroke-width="1"/>
<text x="342.50" y="599.20" font-size="10" text-anchor="middle" font-weight="bold" >*</text>
<polyline points="388.25,607.75 388.25,603.75 449.25,603.75 449.25,608.75" fill="none" stroke="#000" stroke-width="1"/>
<text x="414.80" y="604.75" font-size="10" text-anchor="middle" font-weight="bold" >*</text>
<text x="420.20" y="604.75" font-size="10" text-anchor="middle" font-weight="bold" >*</text>
<polyline points="357.00,623.05 357.00,618.75 449.25,618.75 449.25,623.05" fill="none" stroke="#000" stroke-width="1"/>
<text x="386.25" y="619.95" font-size="10" text-anchor="middle" font-weight="bold" >*</text>
<polyline points="388.25,648.75 388.25,643.75 418.00,643.75 418.00,649.95" fill="none" stroke="#000" stroke-width="1"/>
<text x="404.50" y="645.75" font-size="10" text-anchor="middle" font-weight="bold" >*</text>
<text x="432.30" y="619.75" font-size="10" text-anchor="middle" font-weight="bold" >*</text>
<text x="437.70" y="619.75" font-size="10" text-anchor="middle" font-weight="bold" >*</text>
<line x1="418" y1="618.75" x2="418" y2="622.3" stroke="#000" stroke-width="1.8"/>
</svg>
</body>
</html>
